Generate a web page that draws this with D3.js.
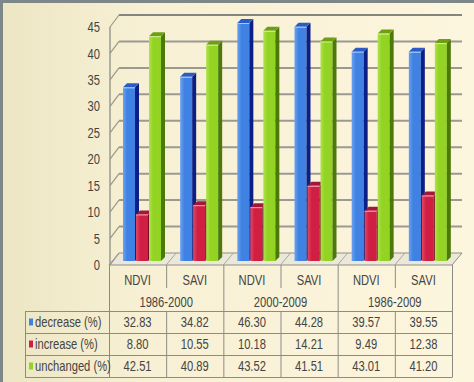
<!DOCTYPE html>
<html>
<head>
<meta charset="utf-8">
<script src="https://cdn.jsdelivr.net/npm/d3@7"></script>
<style>
  html, body { margin: 0; padding: 0; background: #fbf5dc; }
  svg { display: block; }
  text { font-family: "Liberation Sans", Arial, sans-serif; fill: #444; }
</style>
</head>
<body>
<script>
// data
const indices = ['NDVI', 'SAVI', 'NDVI', 'SAVI', 'NDVI', 'SAVI'];
const periods = ['1986-2000', '2000-2009', '1986-2009'];
const seriesNames = ['decrease (%)', 'increase (%)', 'unchanged (%)'];
const decrease = [32.83, 34.82, 46.30, 44.28, 39.57, 39.55];
const increase = [8.80, 10.55, 10.18, 14.21, 9.49, 12.38];
const unchanged = [42.51, 40.89, 43.52, 41.51, 43.01, 41.20];
const yTicks = [0, 5, 10, 15, 20, 25, 30, 35, 40, 45];

const series = [decrease, increase, unchanged];
const colors = [
  { front: '#3f82e3', light: '#6aa2f0', side: '#0b1f86', top: '#2a5cc8', edge: '#a9c8f5' },
  { front: '#d01f42', light: '#e04a66', side: '#7a0a22', top: '#a3173a', edge: '#f0a0b0' },
  { front: '#93d323', light: '#aee24c', side: '#4c7a08', top: '#6e9e12', edge: '#d4f09a' }
];

const width = 474, height = 382;
const narrow = 0.8;   // squeeze text like the original narrow face
const svg = d3.select('body').append('svg')
  .attr('width', width)
  .attr('height', height);

const defs = svg.append('defs');
const bg = defs.append('linearGradient').attr('id', 'bg')
  .attr('x1', 0).attr('y1', 0).attr('x2', 1).attr('y2', 0);
bg.append('stop').attr('offset', 0).attr('stop-color', '#ece6c4');
bg.append('stop').attr('offset', 0.3).attr('stop-color', '#f7f0d4');
bg.append('stop').attr('offset', 1).attr('stop-color', '#fdf6de');

colors.forEach((c, i) => {
  const g = defs.append('linearGradient').attr('id', 'bar' + i)
    .attr('x1', 0).attr('y1', 0).attr('x2', 1).attr('y2', 0);
  g.append('stop').attr('offset', 0).attr('stop-color', c.light);
  g.append('stop').attr('offset', 0.35).attr('stop-color', c.front);
  g.append('stop').attr('offset', 1).attr('stop-color', c.front);
});

svg.append('rect').attr('width', width).attr('height', height).attr('fill', 'url(#bg)');
// outer frame
svg.append('rect').attr('x', 0).attr('y', 0).attr('width', width).attr('height', 3).attr('fill', '#7d8787');
svg.append('rect').attr('x', 0).attr('y', 0).attr('width', 3).attr('height', height).attr('fill', '#7d8787');

// scales (bars above the axis max get cut at 45, like the original)
const x = d3.scaleBand().domain(d3.range(indices.length)).range([109, 452]);
const inner = d3.scaleBand().domain(d3.range(series.length)).range([14, 52]).paddingInner(1 / 13);
const y = d3.scaleLinear().domain([0, 45]).range([265, 27]).clamp(true);

const depthX = 10, depthY = -12;   // back wall offset
const barDY = -4;                   // bar plane offset
const sideX = 4, sideY = -4;        // bar depth

const x0 = x.range()[0], x1 = x.range()[1];

const place = (tx, ty) => `translate(${tx},${ty}) scale(${narrow},1)`;

// floor
svg.append('path')
  .attr('d', `M${x0},${y(0)}L${x1},${y(0)}L${x1 + depthX},${y(0) + depthY}L${x0 + depthX},${y(0) + depthY}Z`)
  .attr('fill', '#ebe8da').attr('stroke', '#8f8f88').attr('stroke-width', 1);
svg.append('g').selectAll('line')
  .data(d3.range(1, indices.length))
  .enter().append('line')
  .attr('x1', d => x(d)).attr('y1', y(0))
  .attr('x2', d => x(d) + depthX).attr('y2', y(0) + depthY)
  .attr('stroke', '#a8a8a0');

// back wall gridlines
svg.append('g').selectAll('line')
  .data(yTicks.slice(1))
  .enter().append('line')
  .attr('x1', x0 + depthX).attr('x2', x1 + depthX)
  .attr('y1', d => y(d) + depthY).attr('y2', d => y(d) + depthY)
  .attr('stroke', d => d === 45 ? '#85857d' : '#9a9a90')
  .attr('stroke-width', 2);

// left wall
svg.append('line')
  .attr('x1', x0 + 1).attr('x2', x0 + 1).attr('y1', y(45)).attr('y2', y(0))
  .attr('stroke', '#9a9a90').attr('stroke-width', 1.5);
svg.append('g').selectAll('line')
  .data(yTicks)
  .enter().append('line')
  .attr('x1', x0 + 1).attr('y1', d => y(d))
  .attr('x2', x0 + depthX).attr('y2', d => y(d) + depthY)
  .attr('stroke', '#9a9a90').attr('stroke-width', 1.2);

// y tick labels
svg.append('g').selectAll('text')
  .data(yTicks)
  .enter().append('text')
  .attr('transform', d => place(100, y(d)))
  .attr('dy', '0.36em')
  .attr('text-anchor', 'end')
  .attr('font-size', 14)
  .text(d => d);

// bars
const bars = svg.append('g');
indices.forEach((name, i) => {
  series.forEach((vals, s) => {
    const v = vals[i];
    const bx = x(i) + inner(s);
    const bw = inner.bandwidth();
    const yb = y(0) + barDY;
    const yt = y(v) + barDY;
    const c = colors[s];
    const g = bars.append('g');
    g.append('rect').attr('x', bx).attr('y', yt).attr('width', bw).attr('height', yb - yt)
      .attr('fill', `url(#bar${s})`);
    g.append('path')
      .attr('d', `M${bx + bw},${yt}L${bx + bw + sideX},${yt + sideY}L${bx + bw + sideX},${yb + sideY}L${bx + bw},${yb}Z`)
      .attr('fill', c.side);
    g.append('path')
      .attr('d', `M${bx},${yt}L${bx + sideX},${yt + sideY}L${bx + bw + sideX},${yt + sideY}L${bx + bw},${yt}Z`)
      .attr('fill', c.top);
    g.append('line').attr('x1', bx).attr('x2', bx + bw).attr('y1', yt + 0.5).attr('y2', yt + 0.5)
      .attr('stroke', c.edge).attr('stroke-width', 1);
  });
});

// table
const lineColor = '#8c8c84';
const tbl = svg.append('g').attr('stroke', lineColor).attr('stroke-width', 1);
const rowTop = 311, rowH = 22, labelX0 = 25;

// header verticals
d3.range(indices.length + 1).forEach(i => {
  const xx = i < indices.length ? x(i) : x1;
  const full = i % 2 === 0;
  tbl.append('line')
    .attr('x1', xx + 0.5).attr('x2', xx + 0.5)
    .attr('y1', y(0)).attr('y2', full ? rowTop + rowH * 3 : 288);
});
// data row lines
d3.range(4).forEach(r => {
  tbl.append('line')
    .attr('x1', labelX0).attr('x2', x1 + 0.5)
    .attr('y1', rowTop + r * rowH + 0.5).attr('y2', rowTop + r * rowH + 0.5);
});
tbl.append('line').attr('x1', labelX0 + 0.5).attr('x2', labelX0 + 0.5)
  .attr('y1', rowTop).attr('y2', rowTop + rowH * 3);
d3.range(indices.length).forEach(i => {
  if (i % 2 === 1) {
    tbl.append('line').attr('x1', x(i) + 0.5).attr('x2', x(i) + 0.5)
      .attr('y1', rowTop).attr('y2', rowTop + rowH * 3);
  }
});

// header text
svg.append('g').selectAll('text')
  .data(indices)
  .enter().append('text')
  .attr('transform', (d, i) => place(x(i) + x.bandwidth() / 2, 285))
  .attr('text-anchor', 'middle')
  .attr('font-size', 14)
  .text(d => d);
svg.append('g').selectAll('text')
  .data(periods)
  .enter().append('text')
  .attr('transform', (d, i) => place(x(i * 2) + x.bandwidth(), 307))
  .attr('text-anchor', 'middle')
  .attr('font-size', 14)
  .text(d => d);

// data rows
series.forEach((vals, s) => {
  const cy = rowTop + s * rowH + rowH / 2;
  svg.append('rect').attr('x', 29).attr('y', cy - 3.5).attr('width', 4).attr('height', 7)
    .attr('fill', colors[s].front);
  svg.append('text').attr('transform', place(35, cy)).attr('dy', '0.36em')
    .attr('font-size', 14).text(seriesNames[s]);
  svg.append('g').selectAll('text')
    .data(vals)
    .enter().append('text')
    .attr('transform', (d, i) => place(x(i) + x.bandwidth() / 2, cy))
    .attr('dy', '0.36em')
    .attr('text-anchor', 'middle')
    .attr('font-size', 14)
    .text(d => d.toFixed(2));
});
</script>
</body>
</html>
